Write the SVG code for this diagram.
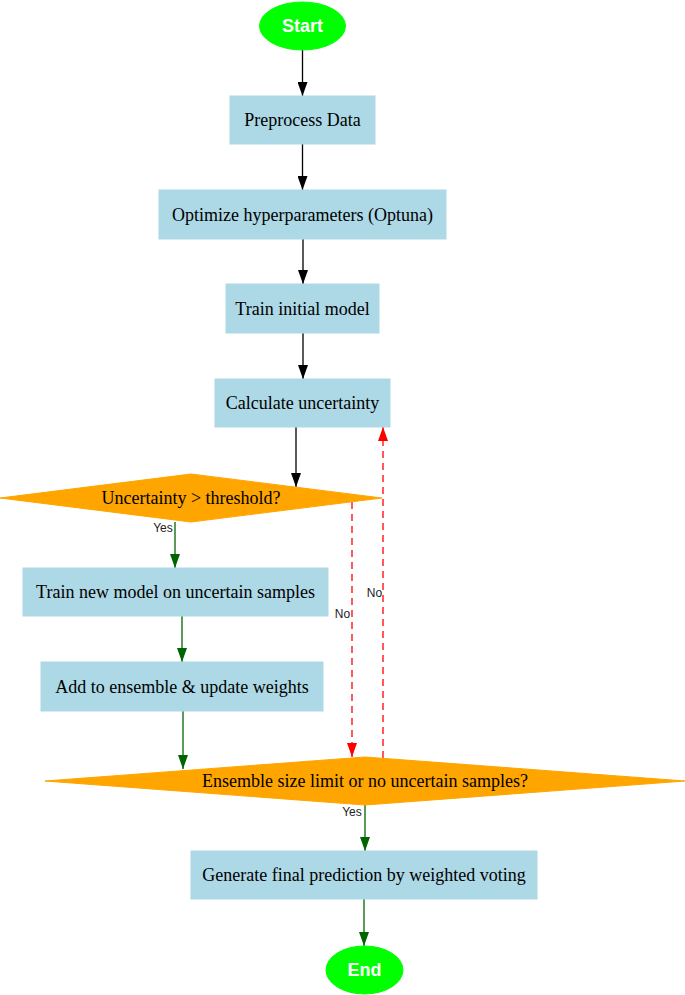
<svg xmlns="http://www.w3.org/2000/svg" width="685" height="995" viewBox="0 0 685 995">
<defs>
<style>
.box{fill:#ADD8E6;stroke:#ADD8E6;stroke-width:1}
.dia{fill:#FFA500;stroke:#FFA500;stroke-width:1}
.term{fill:#00FF00;stroke:#00FF00;stroke-width:1}
.t{font-family:"Liberation Serif","Times New Roman",serif;font-size:18px;fill:#000;text-anchor:middle}
.tt{font-family:"Liberation Sans",Arial,sans-serif;font-size:18px;font-weight:bold;fill:#fff;text-anchor:middle}
.lbl{font-family:"Liberation Sans",Arial,sans-serif;font-size:12px;fill:#222;text-anchor:middle}
.eb{stroke:#000;stroke-width:1.3;fill:none}
.eg{stroke:#006400;stroke-width:1.3;fill:none}
.er{stroke:#FF0000;stroke-width:1.3;fill:none;stroke-dasharray:7,5}
</style>
<marker id="ab" markerUnits="userSpaceOnUse" markerWidth="14" markerHeight="10" refX="14" refY="5" orient="auto"><path d="M0,0 L14,5 L0,10 z" fill="#000"/></marker>
<marker id="ag" markerUnits="userSpaceOnUse" markerWidth="14" markerHeight="10" refX="14" refY="5" orient="auto"><path d="M0,0 L14,5 L0,10 z" fill="#006400"/></marker>
<marker id="ar" markerUnits="userSpaceOnUse" markerWidth="14" markerHeight="10" refX="14" refY="5" orient="auto"><path d="M0,0 L14,5 L0,10 z" fill="#FF0000"/></marker>
</defs>
<rect width="685" height="995" fill="#fff"/>
<g id="edges">
<line class="eb" x1="302.5" y1="50" x2="302.5" y2="96" marker-end="url(#ab)"/>
<line class="eb" x1="302.5" y1="144" x2="302.5" y2="190" marker-end="url(#ab)"/>
<line class="eb" x1="303" y1="239" x2="303" y2="284" marker-end="url(#ab)"/>
<line class="eb" x1="303" y1="333" x2="303" y2="379" marker-end="url(#ab)"/>
<line class="eb" x1="296" y1="427" x2="296" y2="487" marker-end="url(#ab)"/>
<line class="eg" x1="175" y1="522" x2="175" y2="568" marker-end="url(#ag)"/>
<text class="lbl" x="163" y="532">Yes</text>
<line class="eg" x1="182" y1="616" x2="182" y2="662" marker-end="url(#ag)"/>
<line class="eg" x1="183" y1="711" x2="183" y2="769" marker-end="url(#ag)"/>
<line class="er" x1="352" y1="502" x2="352" y2="757" marker-end="url(#ar)"/>
<text class="lbl" x="342.5" y="618">No</text>
<line class="er" x1="383" y1="758" x2="383" y2="427" marker-end="url(#ar)"/>
<text class="lbl" x="374.5" y="597">No</text>
<line class="eg" x1="365" y1="805" x2="365" y2="851" marker-end="url(#ag)"/>
<text class="lbl" x="352" y="816">Yes</text>
<line class="eg" x1="364" y1="899" x2="364" y2="946" marker-end="url(#ag)"/>
</g>
<g id="start"><ellipse class="term" cx="302.5" cy="26" rx="43" ry="24"/><text class="tt" x="302.5" y="32">Start</text></g>
<g id="preprocess"><rect class="box" x="230" y="96" width="145" height="48"/><text class="t" x="302.5" y="126">Preprocess Data</text></g>
<g id="optimize"><rect class="box" x="159" y="190" width="287" height="49"/><text class="t" x="302.5" y="220.5">Optimize hyperparameters (Optuna)</text></g>
<g id="train_initial"><rect class="box" x="226" y="284" width="153" height="49"/><text class="t" x="302.5" y="314.5">Train initial model</text></g>
<g id="calc_uncertainty"><rect class="box" x="215" y="379" width="175" height="48"/><text class="t" x="302.5" y="409">Calculate uncertainty</text></g>
<g id="decision1"><polygon class="dia" points="191,474 382,498 191,522 0,498"/><text class="t" x="191" y="504">Uncertainty &gt; threshold?</text></g>
<g id="train_new"><rect class="box" x="23" y="568" width="305" height="48"/><text class="t" x="175.5" y="598">Train new model on uncertain samples</text></g>
<g id="add_ensemble"><rect class="box" x="41" y="662" width="282" height="49"/><text class="t" x="182" y="692.5">Add to ensemble &amp; update weights</text></g>
<g id="decision2"><polygon class="dia" points="365,757 685,781 365,805 45,781"/><text class="t" x="365" y="787">Ensemble size limit or no uncertain samples?</text></g>
<g id="final_prediction"><rect class="box" x="191" y="851" width="346" height="48"/><text class="t" x="364" y="881">Generate final prediction by weighted voting</text></g>
<g id="end"><ellipse class="term" cx="364.5" cy="970" rx="38.5" ry="24"/><text class="tt" x="364.5" y="976">End</text></g>
</svg>
